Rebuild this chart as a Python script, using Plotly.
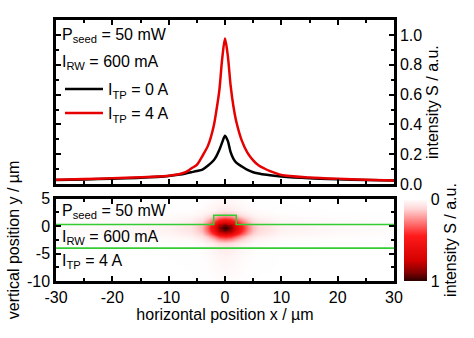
import numpy as np
import plotly.graph_objects as go

# ---------------- data ----------------
x_pos = [-30, -25, -20, -15, -10, -8, -7, -6, -5, -4, -3, -2, -1.5, -1, -0.5, 0,
         0.5, 1, 1.5, 2, 3, 4, 5, 6, 7, 8, 10, 15, 20, 25, 30]
s_tp0 = [0.028, 0.032, 0.037, 0.043, 0.055, 0.065, 0.072, 0.080, 0.088, 0.098, 0.125,
         0.160, 0.190, 0.230, 0.280, 0.325, 0.290, 0.215, 0.170, 0.145, 0.118, 0.095,
         0.080, 0.072, 0.065, 0.060, 0.052, 0.040, 0.033, 0.028, 0.024]
s_tp4 = [0.030, 0.034, 0.039, 0.046, 0.057, 0.068, 0.080, 0.105, 0.130, 0.190, 0.260,
         0.390, 0.500, 0.630, 0.840, 0.976, 0.860, 0.660, 0.520, 0.420, 0.290, 0.210,
         0.160, 0.125, 0.105, 0.088, 0.062, 0.045, 0.036, 0.030, 0.025]

# near-field map (I_TP = 4 A): horizontal and vertical profiles (normalised)
x_map = [-30, -20, -10, -6, -4, -3, -2, -1, 0, 1, 2, 3, 4, 5, 6, 10, 20, 30]
h_map = [0.01, 0.02, 0.04, 0.08, 0.18, 0.36, 0.60, 0.88, 1.00, 0.90, 0.68, 0.46, 0.28,
         0.17, 0.11, 0.04, 0.02, 0.01]
y_map = [-10, -6, -4, -3, -2.3, -1.8, -1.3, -0.8, -0.3, 0.2, 0.7, 1.2, 1.7, 2.2, 3, 4, 5]
v_map = [0.01, 0.03, 0.06, 0.12, 0.30, 0.50, 0.72, 0.92, 1.00, 0.92, 0.72, 0.50, 0.30,
         0.15, 0.06, 0.03, 0.02]

# waveguide outline (green)
ridge_x = [-30, -2, -2, 2, 2, 30]
ridge_y = [0.3, 0.3, 2.0, 2.0, 0.3, 0.3]
layer_x = [-30, 30]
layer_y = [-4, -4]

x_ticks = [-30, -20, -10, 0, 10, 20, 30]
x_ticktext = ['-30', '-20', '-10', '0', '10', '20', '30']
y2_ticks = [5, 0, -5, -10]
y2_ticktext = ['5', '0', '-5', '-10']

# ---------------- figure ----------------
FONT = 'Liberation Sans, Arial, sans-serif'
FS = 16

z = np.outer(np.array(v_map), np.array(h_map))
z_disp = 1 - z  # so that the colour bar reads 0 at top, 1 at bottom

cs = [[0, '#ffffff'], [0.12, '#ffd6d6'], [0.45, '#ff1a1a'], [0.75, '#d40000'],
      [0.9, '#800000'], [1, '#2a0000']]
cs_rev = [[1 - p, c] for p, c in reversed(cs)]

fig = go.Figure()

fig.add_trace(go.Scatter(x=x_pos, y=s_tp0, mode='lines',
                         line=dict(color='black', width=2.5, shape='spline', smoothing=0.8),
                         name='I<sub>TP</sub> = 0 A', xaxis='x', yaxis='y'))
fig.add_trace(go.Scatter(x=x_pos, y=s_tp4, mode='lines',
                         line=dict(color='#e60000', width=2.5, shape='spline', smoothing=0.8),
                         name='I<sub>TP</sub> = 4 A', xaxis='x', yaxis='y'))

fig.add_trace(go.Heatmap(x=x_map, y=y_map, z=z_disp, zmin=0, zmax=1, zsmooth='best',
                         colorscale=cs_rev, xaxis='x2', yaxis='y2', showlegend=False,
                         colorbar=dict(x=1.0296, xanchor='left', xpad=0, thickness=23, len=0.315,
                                       lenmode='fraction', y=0, yanchor='bottom',
                                       outlinewidth=0, ticks='', tickvals=[1, 0],
                                       ticktext=['0', '1'], ypad=0,
                                       tickfont=dict(size=FS, color='black', family=FONT),
                                       title=dict(text='intensity S / a.u.', side='right',
                                                  font=dict(size=FS, color='black', family=FONT)))))

fig.add_trace(go.Scatter(x=ridge_x, y=ridge_y, mode='lines', line=dict(color='#33cc33', width=1.6),
                         xaxis='x2', yaxis='y2', showlegend=False))
fig.add_trace(go.Scatter(x=layer_x, y=layer_y, mode='lines', line=dict(color='#33cc33', width=1.6),
                         xaxis='x2', yaxis='y2', showlegend=False))

axis_common = dict(showline=True, linecolor='black', linewidth=2.5, mirror='ticks',
                   ticks='inside', tickcolor='black', tickwidth=1.5, ticklen=5,
                   showgrid=False, zeroline=False,
                   tickfont=dict(size=FS, color='black', family=FONT))
minor_common = dict(ticklen=3, ticks='inside', tickcolor='black', tickwidth=1.5)

fig.update_layout(
    width=474, height=338,
    margin=dict(l=56, r=80, t=14, b=57),
    paper_bgcolor='white', plot_bgcolor='white',
    font=dict(family=FONT, size=FS, color='black'),
    xaxis=dict(range=[-30, 30], domain=[0, 1], anchor='y', showticklabels=False,
               tickvals=x_ticks, minor=dict(dtick=5, **minor_common),
               **axis_common),
    yaxis=dict(range=[0, 1.1], domain=[0.371, 1], anchor='x', side='right',
               dtick=0.2, tick0=0, tickformat='.1f',
               minor=dict(dtick=0.1, **minor_common),
               title=dict(text='intensity S / a.u.', font=dict(size=FS, color='black'), standoff=6),
               **axis_common),
    xaxis2=dict(range=[-30, 30], domain=[0, 1], anchor='y2',
                tickvals=x_ticks, ticktext=x_ticktext,
                minor=dict(dtick=5, **minor_common),
                title=dict(text='horizontal position x / µm', font=dict(size=FS, color='black'), standoff=2),
                **axis_common),
    yaxis2=dict(range=[-10, 5], domain=[0, 0.315], anchor='x2',
                tickvals=y2_ticks, ticktext=y2_ticktext,
                minor=dict(dtick=2.5, **minor_common),
                title=dict(text='vertical position y / µm', font=dict(size=FS, color='black'), standoff=4),
                **axis_common),
    legend=dict(x=0.0118, y=0.80, xanchor='left', yanchor='top', bgcolor='rgba(0,0,0,0)',
                font=dict(size=FS, color='black', family=FONT), itemwidth=38,
                tracegroupgap=0),
)

ann_x = (60 - 56) / 338
def px_to_paper(py):
    return (281 - py) / 267

ann = [
    ('P<sub>seed</sub> = 50 mW', 30),
    ('I<sub>RW</sub> = 600 mA', 57),
    ('P<sub>seed</sub> = 50 mW', 210),
    ('I<sub>RW</sub> = 600 mA', 237),
    ('I<sub>TP</sub> = 4 A', 261),
]
for txt, py in ann:
    fig.add_annotation(x=ann_x, y=px_to_paper(py), xref='paper', yref='paper', text=txt,
                       showarrow=False, xanchor='left', yanchor='middle',
                       font=dict(size=FS, color='black', family=FONT))

fig.write_html('out.html')
